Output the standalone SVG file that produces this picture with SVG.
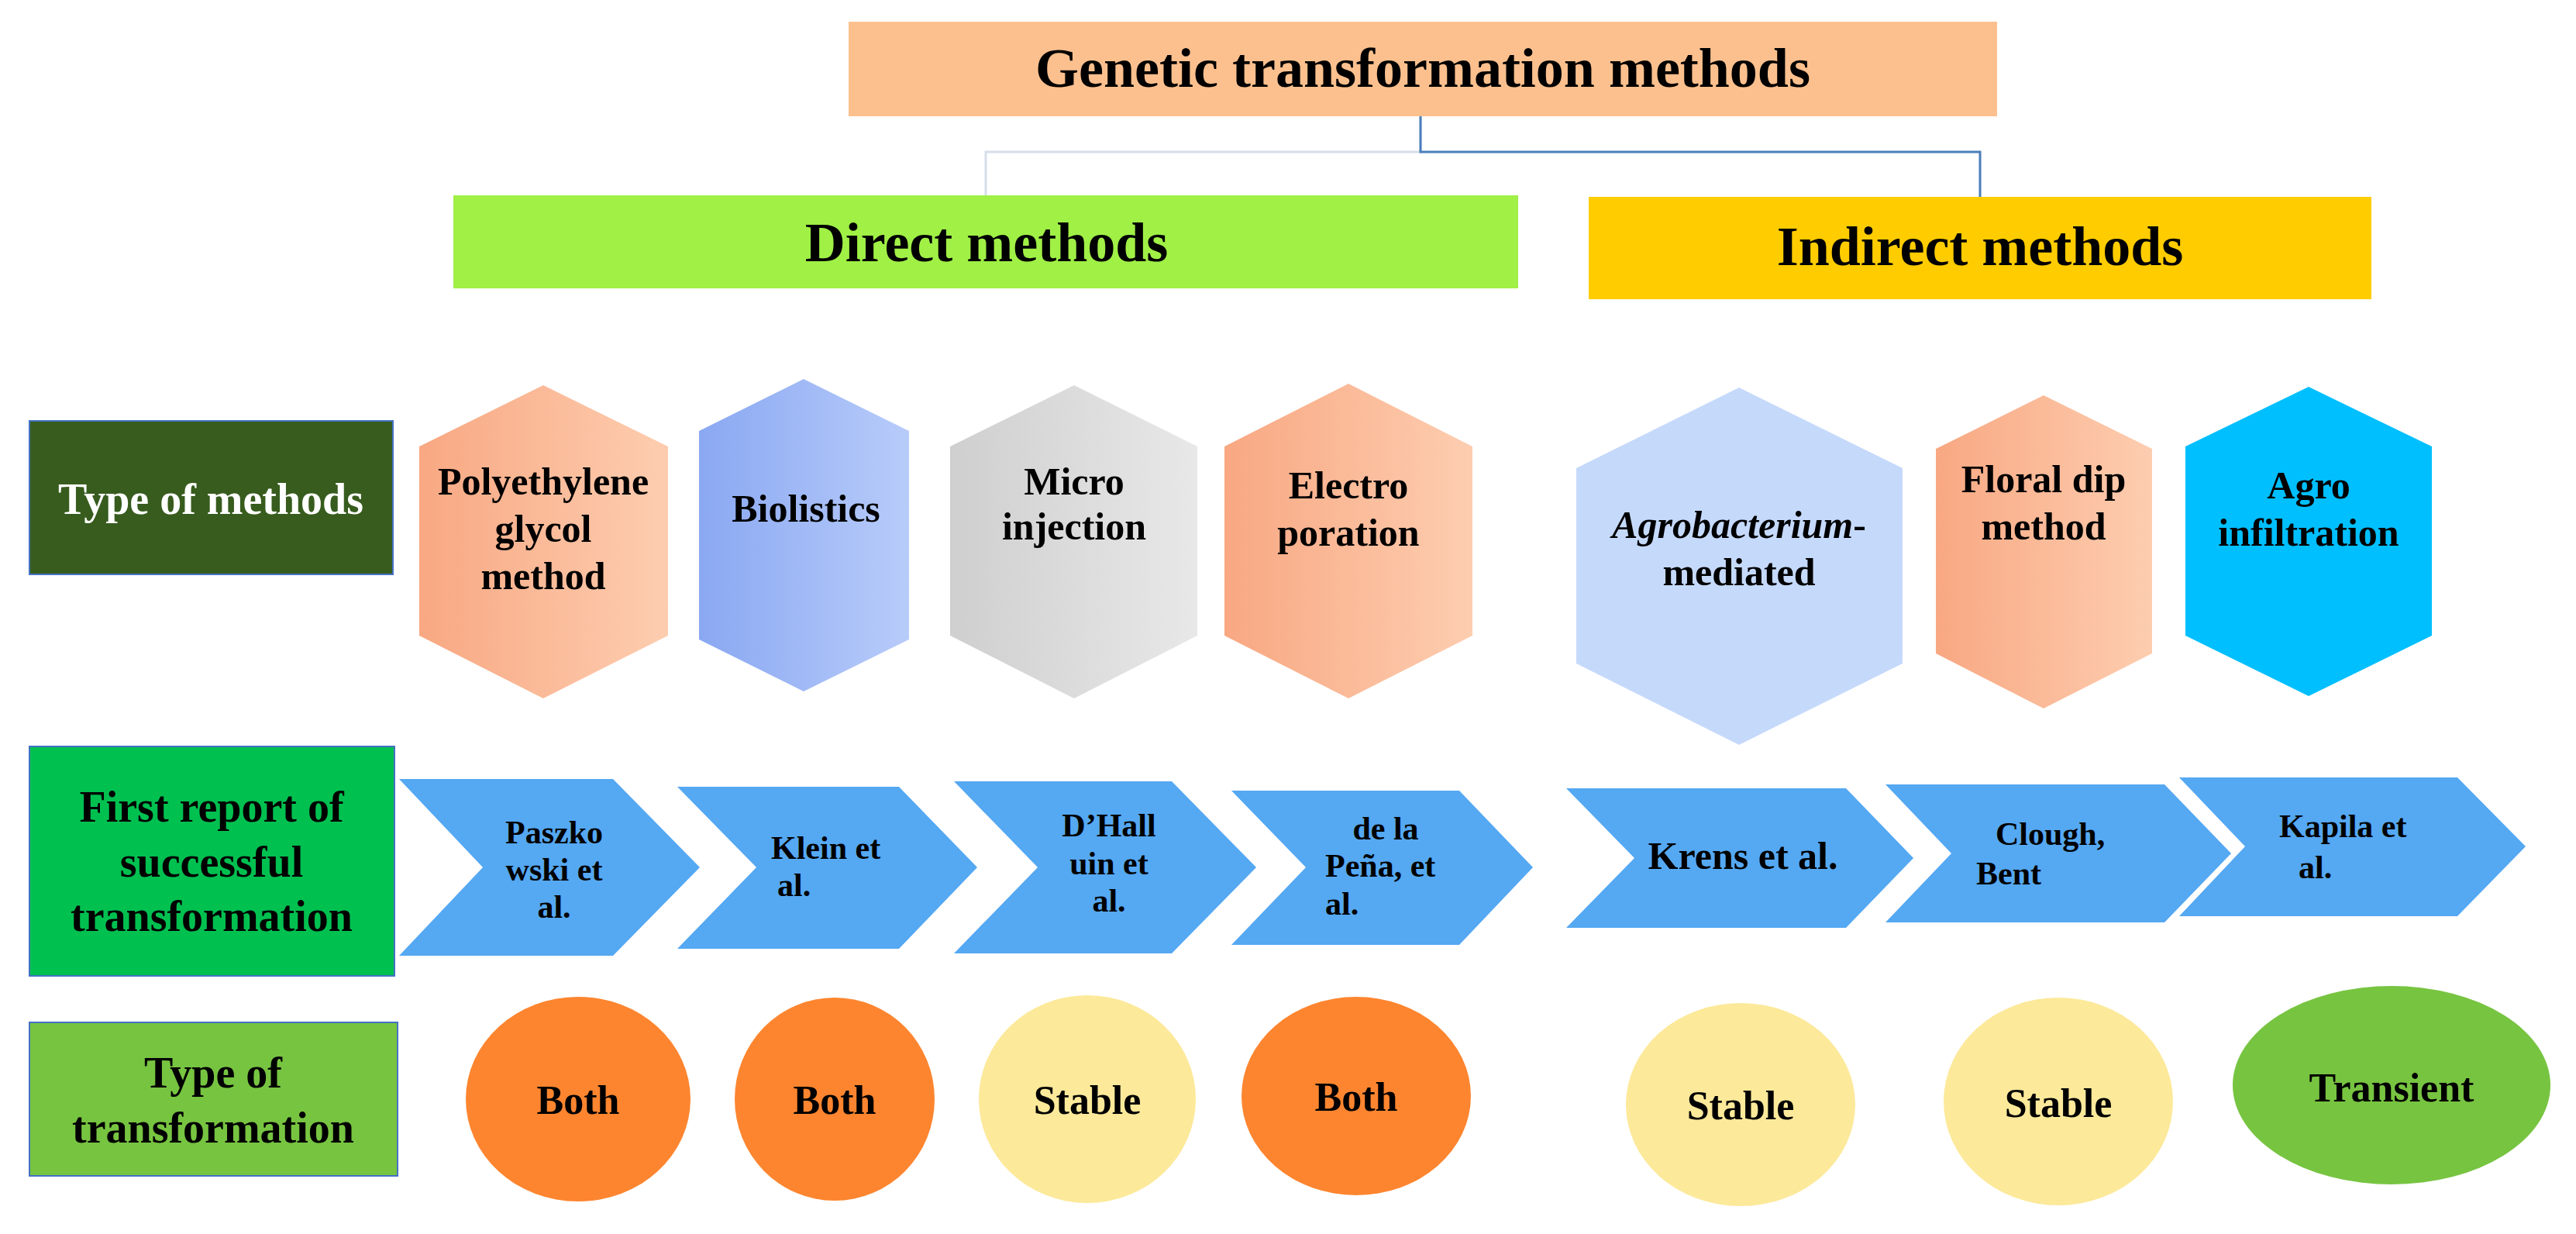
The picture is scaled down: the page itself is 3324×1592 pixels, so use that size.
<svg xmlns="http://www.w3.org/2000/svg" width="3324" height="1592" viewBox="0 0 3324 1592">
<style>
text{font-family:"Liberation Serif","Times New Roman",serif;font-weight:bold;text-anchor:middle;fill:#000}
.h{font-size:72px}
.l{font-size:56px}
.s{font-size:50px}
.k{font-size:42px}
.c{font-size:52px}
.w{fill:#fff}
.st{text-anchor:start}
.chev{fill:#55A8F2}
.lab{stroke:#4472C4;stroke-width:2}
</style>
<defs>
<linearGradient id="gO" x1="0" x2="1"><stop offset="0" stop-color="#F8A882"/><stop offset="1" stop-color="#FDCDB0"/></linearGradient>
<linearGradient id="gB" x1="0" x2="1"><stop offset="0" stop-color="#8AA8F2"/><stop offset="1" stop-color="#B8CCFA"/></linearGradient>
<linearGradient id="gG" x1="0" x2="1"><stop offset="0" stop-color="#CFCFCF"/><stop offset="1" stop-color="#E8E8E8"/></linearGradient>
</defs>
<rect width="3324" height="1592" fill="#fff"/>
<g id="connectors" fill="none" stroke-width="3">
<path d="M1833 150 V196 H1272 V252" stroke="#D6DEEA"/>
<path d="M1833 150 V196 H2555 V254" stroke="#4A7EBB"/>
</g>
<g id="root"><rect x="1095" y="28" width="1482" height="122" fill="#FCC08E"/><text class="h" x="1836" y="112">Genetic transformation methods</text></g>
<g id="direct"><rect x="585" y="252" width="1374" height="120" fill="#A0F046"/><text class="h" x="1273" y="337">Direct methods</text></g>
<g id="indirect"><rect x="2050" y="254" width="1010" height="132" fill="#FFCC00"/><text class="h" x="2555" y="342">Indirect methods</text></g>
<g id="lab1"><rect class="lab" x="38" y="543" width="469" height="198" fill="#375C1E"/><text class="l w" x="272" y="663">Type of methods</text></g>
<g id="lab2"><rect class="lab" x="38" y="963" width="471" height="296" fill="#00C050"/><text class="l" x="273" y="1060">First report of</text><text class="l" x="273" y="1131">successful</text><text class="l" x="273" y="1201">transformation</text></g>
<g id="lab3"><rect class="lab" x="38" y="1319" width="475" height="198" fill="#77C441"/><text class="l" x="275" y="1403">Type of</text><text class="l" x="275" y="1474">transformation</text></g>
<g id="hex1"><polygon points="701,497 862,576 862,820 701,901 541,820 541,576" fill="url(#gO)"/><text class="s" x="701" y="638">Polyethylene</text><text class="s" x="701" y="699">glycol</text><text class="s" x="701" y="760">method</text></g>
<g id="hex2"><polygon points="1037,489 1173,556 1173,825 1037,892 902,825 902,556" fill="url(#gB)"/><text class="s" x="1040" y="673">Biolistics</text></g>
<g id="hex3"><polygon points="1386,497 1545,576 1545,820 1386,901 1226,820 1226,576" fill="url(#gG)"/><text class="s" x="1386" y="638">Micro</text><text class="s" x="1386" y="696">injection</text></g>
<g id="hex4"><polygon points="1740,495 1900,576 1900,820 1740,901 1580,820 1580,576" fill="url(#gO)"/><text class="s" x="1740" y="643">Electro</text><text class="s" x="1740" y="704">poration</text></g>
<g id="hex5"><polygon points="2244,500 2455,604 2455,856 2244,961 2034,856 2034,604" fill="#C5D9FB"/><text class="s" x="2244" y="694"><tspan font-style="italic">Agrobacterium</tspan>-</text><text class="s" x="2244" y="755">mediated</text></g>
<g id="hex6"><polygon points="2637,510 2777,579 2777,843 2637,914 2498,843 2498,579" fill="url(#gO)"/><text class="s" x="2637" y="635">Floral dip</text><text class="s" x="2637" y="696">method</text></g>
<g id="hex7"><polygon points="2979,499 3138,576 3138,820 2979,898 2820,820 2820,576" fill="#00BFFF"/><text class="s" x="2979" y="643">Agro</text><text class="s" x="2979" y="704">infiltration</text></g>
<g id="chev1"><polygon class="chev" points="515,1005 791,1005 903,1119 791,1233 515,1233 623,1119"/><text class="k" x="715" y="1088">Paszko</text><text class="k" x="715" y="1136">wski et</text><text class="k" x="715" y="1184">al.</text></g>
<g id="chev2"><polygon class="chev" points="874,1015 1160,1015 1261,1119 1160,1224 874,1224 976,1119"/><text class="k st" x="995" y="1108">Klein et</text><text class="k st" x="1003" y="1156">al.</text></g>
<g id="chev3"><polygon class="chev" points="1231,1008 1512,1008 1621,1119 1512,1230 1231,1230 1339,1119"/><text class="k" x="1431" y="1079">D’Hall</text><text class="k" x="1431" y="1128">uin et</text><text class="k" x="1431" y="1176">al.</text></g>
<g id="chev4"><polygon class="chev" points="1589,1020 1883,1020 1978,1119 1883,1219 1589,1219 1685,1119"/><text class="k" x="1788" y="1083">de la</text><text class="k st" x="1710" y="1131">Peña, et</text><text class="k st" x="1710" y="1180">al.</text></g>
<g id="chev5"><polygon class="chev" points="2021,1017 2382,1017 2469,1107 2382,1197 2021,1197 2109,1107"/><text class="s" x="2249" y="1121">Krens et al.</text></g>
<g id="chev6"><polygon class="chev" points="2433,1012 2793,1012 2879,1101 2793,1190 2433,1190 2518,1101"/><text class="k st" x="2575" y="1090">Clough,</text><text class="k st" x="2550" y="1141">Bent</text></g>
<g id="chev7"><polygon class="chev" points="2812,1003 3171,1003 3259,1092 3171,1182 2812,1182 2897,1092"/><text class="k st" x="2941" y="1080">Kapila et</text><text class="k st" x="2966" y="1133">al.</text></g>
<g id="t1"><ellipse cx="746" cy="1418" rx="145" ry="132" fill="#FD852F"/><text class="c" x="746" y="1437">Both</text></g>
<g id="t2"><ellipse cx="1077" cy="1418" rx="129" ry="131" fill="#FD852F"/><text class="c" x="1077" y="1437">Both</text></g>
<g id="t3"><ellipse cx="1403" cy="1418" rx="140" ry="134" fill="#FCE99A"/><text class="c" x="1403" y="1437">Stable</text></g>
<g id="t4"><ellipse cx="1750" cy="1414" rx="148" ry="128" fill="#FD852F"/><text class="c" x="1750" y="1433">Both</text></g>
<g id="t5"><ellipse cx="2246" cy="1425" rx="148" ry="131" fill="#FCE99A"/><text class="c" x="2246" y="1444">Stable</text></g>
<g id="t6"><ellipse cx="2656" cy="1421" rx="148" ry="134" fill="#FCE99A"/><text class="c" x="2656" y="1441">Stable</text></g>
<g id="t7"><ellipse cx="3086" cy="1400" rx="205" ry="128" fill="#77C441"/><text class="c" x="3086" y="1421">Transient</text></g>
</svg>
